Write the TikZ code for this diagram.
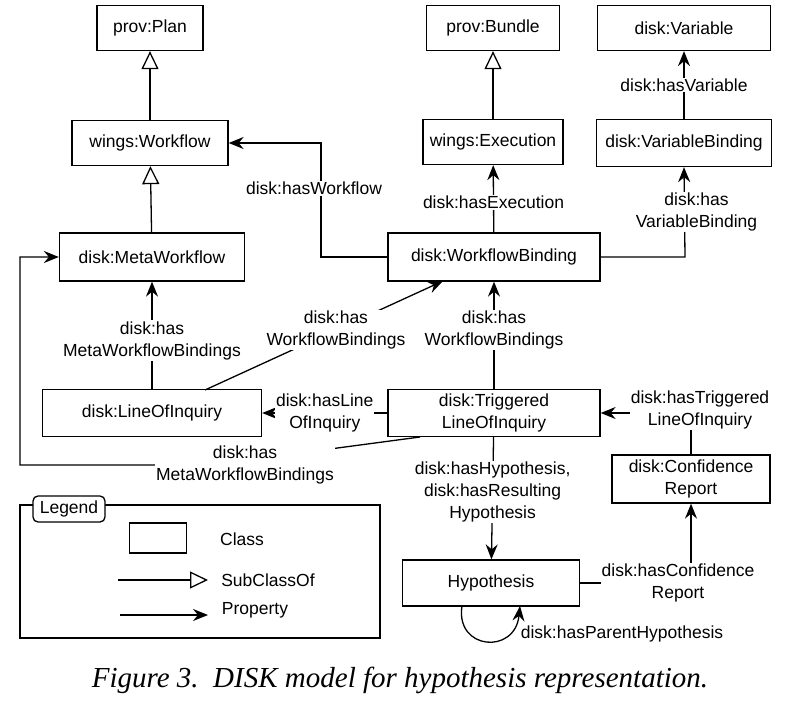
\documentclass[tikz,border=0pt]{standalone}
\usepackage{fontspec}
\setmainfont{Liberation Sans}
\newfontfamily\capfont{Liberation Serif}
\usetikzlibrary{arrows.meta}
\begin{document}
\begin{tikzpicture}[x=1pt,y=-1pt,
  every node/.style={font=\fontsize{17.5}{22}\selectfont},
  cls/.style={draw,line width=1.3pt,minimum height=45pt,inner sep=0pt},
  lbl/.style={fill=white,inner sep=1pt,align=center},
  prop/.style={line width=1.3pt,-{Stealth[length=15pt,width=12pt,inset=5pt]}},
  sub/.style={line width=1.3pt,-{Triangle[open,length=18pt,width=17pt]}},
  line/.style={line width=1.3pt}]
\useasboundingbox (0,0) rectangle (800,703);
\node[cls,minimum width=106pt] (plan) at (150,28) {prov:Plan};
\node[cls,minimum width=156pt] (wf) at (150,143) {wings:Workflow};
\node[cls,minimum width=185pt,minimum height=48pt] (mwf) at (152,257) {disk:MetaWorkflow};
\node[cls,minimum width=133pt] (bundle) at (493,28) {prov:Bundle};
\node[cls,minimum width=140pt] (exec) at (493,142) {wings:Execution};
\node[cls,minimum width=173pt] (var) at (684,28) {disk:Variable};
\node[cls,minimum width=175pt,minimum height=47pt] (vb) at (684,143) {disk:VariableBinding};
\node[cls,minimum width=212pt,minimum height=48pt] (wb) at (494,257) {disk:WorkflowBinding};
\node[cls,minimum width=219pt,minimum height=47pt] (loi) at (152,413) {disk:LineOfInquiry};
\node[cls,minimum width=212pt,minimum height=47pt,align=center] (tloi) at (494,413) {disk:Triggered\\LineOfInquiry};
\node[cls,minimum width=158pt,minimum height=48pt,align=center] (cr) at (691,479) {disk:Confidence\\Report};
\node[cls,minimum width=177pt,minimum height=46pt] (hyp) at (491,583) {Hypothesis};
% subclass
\draw[sub] (wf) -- (plan);
\draw[sub] (mwf) -- (wf);
\draw[sub] (exec) -- (bundle);
% properties
\draw[prop] (wb) -- node[lbl,pos=0.45]{disk:hasExecution} (exec);
\draw[prop] (vb) -- node[lbl]{disk:hasVariable} (var);
\coordinate (c1) at (685,257);
\draw[prop] (wb.east) -- (c1) -- node[lbl,pos=0.5,xshift=12pt]{disk:has\\VariableBinding} (vb.south);
\coordinate (c2) at (321,257);
\coordinate (c3) at (321,143);
\draw[prop] (wb.west) -- (c2) -- node[lbl,pos=0.6,xshift=-7pt]{disk:hasWorkflow} (c3) -- (wf.east);
\draw[prop] (loi.north) -- node[lbl,pos=0.45]{disk:has\\MetaWorkflowBindings} (mwf.south);
\coordinate (c4) at (205,390);
\coordinate (c5) at (443,281);
\draw[prop] (c4) -- node[lbl,pos=0.55]{disk:has\\WorkflowBindings} (c5);
\draw[prop] (tloi) -- node[lbl,pos=0.55]{disk:has\\WorkflowBindings} (wb);
\draw[prop] (tloi) -- node[lbl,pos=0.5]{disk:hasLine\\OfInquiry} (loi);
\coordinate (c6) at (420,437);
\coordinate (c7) at (210,465);
\coordinate (c8) at (20,465);
\coordinate (c9) at (20,257);
\draw[prop] (c6) -- (c7) -- (c8) -- (c9) -- (mwf.west);
\node[lbl] at (245,465) {disk:has\\MetaWorkflowBindings};
\draw[prop] (tloi) -- node[lbl,pos=0.45]{disk:hasHypothesis,\\disk:hasResulting\\Hypothesis} (hyp);
\coordinate (c10) at (691,413);
\draw[prop] (cr.north) -- (c10) -- (tloi.east);
\node[lbl] at (700,410) {disk:hasTriggered\\LineOfInquiry};
\coordinate (c11) at (691,583);
\draw[prop] (hyp.east) -- (c11) -- (cr.south);
\node[lbl] at (678,583) {disk:hasConfidence\\Report};
\coordinate (h1) at (462,606);
\coordinate (h2) at (520,606);
\draw[prop] (h1) .. controls (455,650) and (515,655) .. (h2);
\node[lbl,fill=none] at (622,634) {disk:hasParentHypothesis};
% legend
\node[draw,line width=1.3pt,minimum width=360pt,minimum height=133pt,inner sep=0pt] (leg) at (200,571.5) {};
\node[draw,line width=1.3pt,rounded corners=5pt,fill=white,minimum width=72pt,minimum height=26pt,inner sep=0pt] (tab) at (69,509) {Legend};
\node[draw,line width=1.3pt,minimum width=57pt,minimum height=30pt,inner sep=0pt] (lc) at (158,538) {};
\node (lct) at (242,539) {Class};
\coordinate (l1) at (118,580);
\coordinate (l2) at (208,580);
\draw[sub] (l1) -- (l2);
\node (lst) at (268,580) {SubClassOf};
\coordinate (l3) at (120,615);
\coordinate (l4) at (208,615);
\draw[prop] (l3) -- (l4);
\node (lpt) at (255,610) {Property};
\node[font=\capfont\itshape\fontsize{29}{32}\selectfont] (cap) at (400,680) {Figure 3.\ \ DISK model for hypothesis representation.};
\end{tikzpicture}
\end{document}
